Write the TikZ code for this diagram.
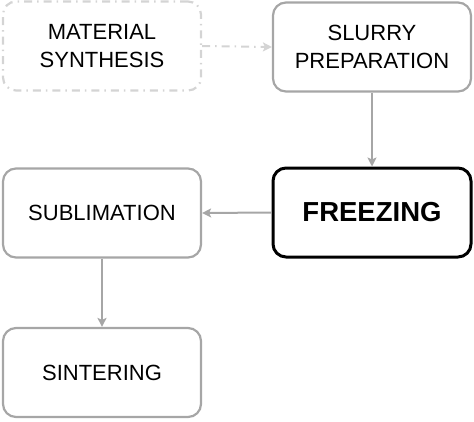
\documentclass[tikz,border=0pt]{standalone}
\usepackage{fontspec}
\setmainfont{Liberation Sans}
\usetikzlibrary{arrows.meta}
\definecolor{boxgray}{HTML}{A6A6A6}
\definecolor{lightgray2}{HTML}{D4D4D4}
\begin{document}
\begin{tikzpicture}[x=1pt,y=-1pt,
  box/.style={draw=boxgray, line width=2.2pt, rounded corners=13pt, minimum width=198pt, minimum height=89pt, align=center, font=\fontsize{22}{28.5}\selectfont, inner sep=0pt},
  dbox/.style={box, draw=lightgray2, dash pattern=on 8pt off 5pt on 1.5pt off 5pt},
  fbox/.style={box, draw=black, line width=3pt, font=\fontsize{27.5}{33}\selectfont\bfseries},
  conn/.style={draw=boxgray, line width=2pt, -{Stealth[length=9pt,width=9pt,inset=2pt]}},
  dconn/.style={conn, draw=lightgray2, dash pattern=on 8pt off 5pt on 1.5pt off 5pt, -{Stealth[length=9pt,width=9pt,inset=2pt,fill=lightgray2]}}
]
\useasboundingbox (0,0) rectangle (474,421);
\node[dbox] (mat) at (102,46) {MATERIAL\\SYNTHESIS};
\node[box] (slu) at (372,47) {SLURRY\\PREPARATION};
\node[fbox] (fre) at (372,212.5) {FREEZING};
\node[box] (sub) at (102,213) {SUBLIMATION};
\node[box] (sin) at (102,372.5) {SINTERING};
\draw[dconn] (mat.east) -- (slu.west);
\draw[conn] (slu.south) -- (fre.north);
\draw[conn] (fre.west) -- (sub.east);
\draw[conn] (sub.south) -- (sin.north);
\end{tikzpicture}
\end{document}
